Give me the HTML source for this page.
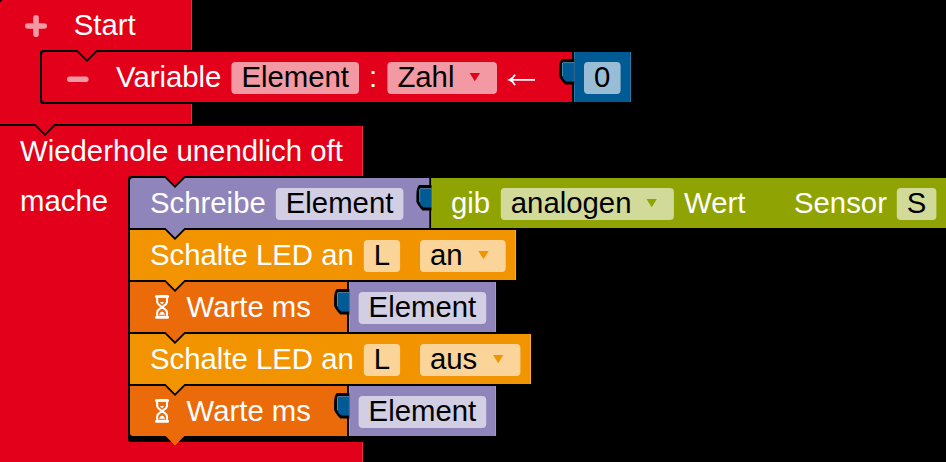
<!DOCTYPE html>
<html><head><meta charset="utf-8"><title>Blocks</title>
<style>
html,body{margin:0;padding:0;background:#000;overflow:hidden}
svg{display:block}
text{font-family:"Liberation Sans",sans-serif;font-size:29.33px;white-space:pre}
</style></head><body>
<svg width="946" height="462" viewBox="0 0 946 462">
<rect width="946" height="462" fill="#000"/>
<path d="M0,2.5 L2.5,0 H192 V50 H96.5 l-9.5,9.5 -9.5,-9.5 H43 Q40,50 40,53 V101 Q40,104 43,104 H192 V124 H54.5 l-9.5,9.5 -9.5,-9.5 H0 Z" fill="#E2001A"/>
<path d="M27.8,26 H44.2 M36,17.8 V34.2" stroke="#fff" stroke-opacity="0.6" stroke-width="5.6" stroke-linecap="round" fill="none"/>
<text x="73.7" y="35.25" fill="#fff">Start</text>
<path d="M45,52 H77 l10,10 10,-10 H572 V102 H45 Q42,102 42,99 V55 Q42,52 45,52 Z" fill="#E2001A"/>
<path d="M69.8,79.2 H85.8" stroke="#fff" stroke-opacity="0.6" stroke-width="5.6" stroke-linecap="round" fill="none"/>
<text x="116" y="86.85" fill="#fff">Variable</text>
<rect x="231.4" y="62" width="127.6" height="32" rx="4" ry="4" fill="#fff" fill-opacity="0.6"/>
<text x="241.4" y="86.85" fill="#000">Element</text>
<text x="369" y="86.85" fill="#fff">:</text>
<rect x="387.4" y="62" width="109.6" height="32" rx="4" ry="4" fill="#fff" fill-opacity="0.6"/>
<text x="397.4" y="86.85" fill="#000">Zahl</text>
<path d="M469.6,73 h10.4 l-5.2,8.2 Z" fill="#E2001A"/>
<path d="M510,79.9 H535 M515,74.7 C513.6,77.5 512,79 509.6,79.9 C512,80.8 513.6,82.3 515,85.1" stroke="#fff" stroke-width="1.85" fill="none"/>
<rect x="574" y="52" width="57" height="50" fill="#005A94"/>
<path d="M574.5,59.1 H561.8 C560.2,60.5 559.1,64 559.1,68.8 V75.5 Q559.6,78.5 565.2,84.6 H574.5 Z" fill="#000"/>
<path d="M574.5,62.2 H563.2 Q562,62.4 562,64 V76 Q562.5,78.5 566.1,81.6 H574.5 Z" fill="#005A94"/>
<path d="M574,62.6 H563.4 Q562.4,62.8 562.4,64 V76" fill="none" stroke="#fff" stroke-opacity="0.4" stroke-width="0.8"/>
<path d="M574.35,52 V102" stroke="#fff" stroke-opacity="0.3" stroke-width="0.7" fill="none"/>
<path d="M630.65,52 V102" stroke="#fff" stroke-opacity="0.3" stroke-width="0.7" fill="none"/>
<rect x="584" y="62" width="36.6" height="32" rx="4" ry="4" fill="#fff" fill-opacity="0.6"/>
<text x="594" y="86.85" fill="#000">0</text>
<path d="M0,126 H35 l10,10 10,-10 H363 V176 H184.5 l-9.5,9.5 -9.5,-9.5 H131 Q128,176 128,179 V439 Q128,442 131,442 H363 V462 H0 Z" fill="#E2001A"/>
<path d="M362.65,126 V176" stroke="#fff" stroke-opacity="0.3" stroke-width="0.7" fill="none"/>
<path d="M362.65,442 V462" stroke="#fff" stroke-opacity="0.3" stroke-width="0.7" fill="none"/>
<path d="M191.65,0 V50" stroke="#fff" stroke-opacity="0.3" stroke-width="0.7" fill="none"/>
<path d="M191.65,104 V124" stroke="#fff" stroke-opacity="0.3" stroke-width="0.7" fill="none"/>
<text x="20" y="160.85" fill="#fff">Wiederhole unendlich oft</text>
<text x="20" y="210.85" fill="#fff">mache</text>
<path d="M133,178 H165 l10,10 10,-10 H429.3 V228 H184.5 l-9.5,9.5 -9.5,-9.5 H130 Q130,228 130,228 V181 Q130,178 133,178 Z" fill="#9085BA"/>
<text x="150" y="212.85" fill="#fff">Schreibe</text>
<rect x="275.8" y="188" width="127.6" height="32" rx="4" ry="4" fill="#fff" fill-opacity="0.6"/>
<text x="285.8" y="212.85" fill="#000">Element</text>
<rect x="431.3" y="178" width="520" height="50" fill="#8FA402"/>
<path d="M431.8,185.1 H419.1 C417.5,186.5 416.40000000000003,190 416.40000000000003,194.8 V201.5 Q416.90000000000003,204.5 422.5,210.6 H431.8 Z" fill="#000"/>
<path d="M431.8,188.2 H420.5 Q419.3,188.4 419.3,190 V202 Q419.8,204.5 423.40000000000003,207.6 H431.8 Z" fill="#005A94"/>
<path d="M431.3,188.6 H420.7 Q419.7,188.8 419.7,190 V202" fill="none" stroke="#fff" stroke-opacity="0.4" stroke-width="0.8"/>
<path d="M431.65,178 V228" stroke="#fff" stroke-opacity="0.35" stroke-width="0.7" fill="none"/>
<text x="451" y="212.85" fill="#fff">gib</text>
<rect x="500.8" y="188" width="173.1" height="32" rx="4" ry="4" fill="#fff" fill-opacity="0.6"/>
<text x="510.8" y="212.85" fill="#000">analogen</text>
<path d="M646.5,199 h10.4 l-5.2,8.2 Z" fill="#8FA402"/>
<text x="684" y="212.85" fill="#fff">Wert</text>
<text x="794" y="212.85" fill="#fff">Sensor</text>
<rect x="896.8" y="188" width="39.6" height="32" rx="4" ry="4" fill="#fff" fill-opacity="0.6"/>
<text x="906.8" y="212.85" fill="#000">S</text>
<path d="M130,230 H165 l10,10 10,-10 H516 V280 H184.5 l-9.5,9.5 -9.5,-9.5 H130 Q130,280 130,280 V230 Q130,230 130,230 Z" fill="#F29400"/>
<path d="M515.65,230 V280" stroke="#fff" stroke-opacity="0.4" stroke-width="0.7" fill="none"/>
<text x="150" y="264.85" fill="#fff">Schalte LED an</text>
<rect x="363.8" y="240" width="36.3" height="32" rx="4" ry="4" fill="#fff" fill-opacity="0.6"/>
<text x="373.8" y="264.85" fill="#000">L</text>
<rect x="420" y="240" width="85.7" height="32" rx="4" ry="4" fill="#fff" fill-opacity="0.6"/>
<text x="430" y="264.85" fill="#000">an</text>
<path d="M478.3,251 h10.4 l-5.2,8.2 Z" fill="#F29400"/>
<path d="M130,282 H165 l10,10 10,-10 H347 V332 H184.5 l-9.5,9.5 -9.5,-9.5 H130 Q130,332 130,332 V282 Q130,282 130,282 Z" fill="#EB6A0A"/>
<g transform="translate(155,295)" fill="none" stroke="#fff" stroke-linecap="round" stroke-linejoin="round"><path d="M1.5,1.55 H12.6 M1.5,22.15 H12.6" stroke-width="3"/><path d="M2.15,3 V6.8 C2.15,10 5.4,10.4 7.05,12.2 C8.7,10.4 12,10 12,6.8 V3 M2.15,20.7 V17.4 C2.15,14.4 5.4,14 7.05,12.2 C8.7,14 12,14.4 12,17.4 V20.7" stroke-width="2.1" stroke-linecap="butt"/><path d="M4.8,7.0 h4.5 l-2.25,2.3 Z M4.0,19.8 q3.05,-6.4 6.1,0 Z" fill="#fff" stroke="none"/></g>
<text x="186.6" y="316.85" fill="#fff">Warte ms</text>
<rect x="349" y="282" width="147" height="50" fill="#9085BA"/>
<path d="M349.5,289.1 H336.8 C335.2,290.5 334.1,294 334.1,298.8 V305.5 Q334.6,308.5 340.2,314.6 H349.5 Z" fill="#000"/>
<path d="M349.5,292.2 H338.2 Q337,292.4 337,294 V306 Q337.5,308.5 341.1,311.6 H349.5 Z" fill="#005A94"/>
<path d="M349,292.6 H338.4 Q337.4,292.8 337.4,294 V306" fill="none" stroke="#fff" stroke-opacity="0.4" stroke-width="0.8"/>
<path d="M349.35,282 V332" stroke="#fff" stroke-opacity="0.3" stroke-width="0.7" fill="none"/>
<path d="M495.65,282 V332" stroke="#fff" stroke-opacity="0.3" stroke-width="0.7" fill="none"/>
<rect x="358.6" y="292" width="127.6" height="32" rx="4" ry="4" fill="#fff" fill-opacity="0.6"/>
<text x="368.6" y="316.85" fill="#000">Element</text>
<path d="M130,334 H165 l10,10 10,-10 H531 V384 H184.5 l-9.5,9.5 -9.5,-9.5 H130 Q130,384 130,384 V334 Q130,334 130,334 Z" fill="#F29400"/>
<path d="M530.65,334 V384" stroke="#fff" stroke-opacity="0.4" stroke-width="0.7" fill="none"/>
<text x="150" y="368.85" fill="#fff">Schalte LED an</text>
<rect x="363.8" y="344" width="36.3" height="32" rx="4" ry="4" fill="#fff" fill-opacity="0.6"/>
<text x="373.8" y="368.85" fill="#000">L</text>
<rect x="420" y="344" width="100.4" height="32" rx="4" ry="4" fill="#fff" fill-opacity="0.6"/>
<text x="430" y="368.85" fill="#000">aus</text>
<path d="M493.0,355 h10.4 l-5.2,8.2 Z" fill="#F29400"/>
<path d="M130,386 H165 l10,10 10,-10 H347 V436 H184.5 l-9.5,9.5 -9.5,-9.5 H133 Q130,436 130,433 V386 Q130,386 130,386 Z" fill="#EB6A0A"/>
<g transform="translate(155,399)" fill="none" stroke="#fff" stroke-linecap="round" stroke-linejoin="round"><path d="M1.5,1.55 H12.6 M1.5,22.15 H12.6" stroke-width="3"/><path d="M2.15,3 V6.8 C2.15,10 5.4,10.4 7.05,12.2 C8.7,10.4 12,10 12,6.8 V3 M2.15,20.7 V17.4 C2.15,14.4 5.4,14 7.05,12.2 C8.7,14 12,14.4 12,17.4 V20.7" stroke-width="2.1" stroke-linecap="butt"/><path d="M4.8,7.0 h4.5 l-2.25,2.3 Z M4.0,19.8 q3.05,-6.4 6.1,0 Z" fill="#fff" stroke="none"/></g>
<text x="186.6" y="420.85" fill="#fff">Warte ms</text>
<rect x="349" y="386" width="147" height="50" fill="#9085BA"/>
<path d="M349.5,393.1 H336.8 C335.2,394.5 334.1,398 334.1,402.8 V409.5 Q334.6,412.5 340.2,418.6 H349.5 Z" fill="#000"/>
<path d="M349.5,396.2 H338.2 Q337,396.4 337,398 V410 Q337.5,412.5 341.1,415.6 H349.5 Z" fill="#005A94"/>
<path d="M349,396.6 H338.4 Q337.4,396.8 337.4,398 V410" fill="none" stroke="#fff" stroke-opacity="0.4" stroke-width="0.8"/>
<path d="M349.35,386 V436" stroke="#fff" stroke-opacity="0.3" stroke-width="0.7" fill="none"/>
<path d="M495.65,386 V436" stroke="#fff" stroke-opacity="0.3" stroke-width="0.7" fill="none"/>
<rect x="358.6" y="396" width="127.6" height="32" rx="4" ry="4" fill="#fff" fill-opacity="0.6"/>
<text x="368.6" y="420.85" fill="#000">Element</text>
</svg>
</body></html>
